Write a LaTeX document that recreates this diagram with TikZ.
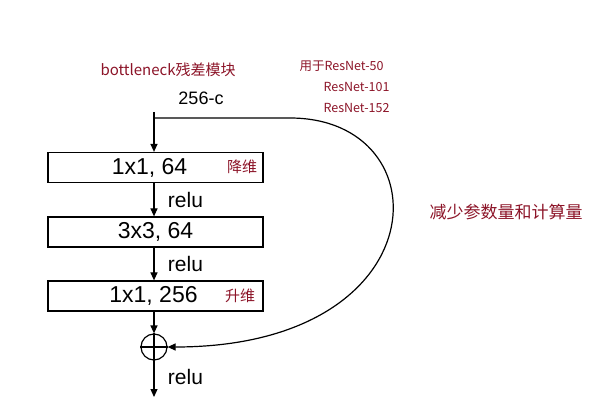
\documentclass[tikz,border=0pt]{standalone}
\usepackage{fontspec}
\setmainfont{Liberation Sans}
\newfontfamily\cjk{Noto Sans CJK SC}
\usetikzlibrary{arrows.meta}
\definecolor{hand}{RGB}{140,20,40}
\begin{document}
\begin{tikzpicture}[x=1pt,y=-1pt,
  blk/.style={draw,line width=1.2pt,minimum width=215pt,minimum height=30pt,font=\fontsize{23}{24}\selectfont,inner sep=0pt},
  lab/.style={font=\fontsize{21}{22}\selectfont},
  red/.style={text=hand,font=\cjk\fontsize{15}{16}\selectfont},
  sml/.style={text=hand,font=\cjk\fontsize{12.5}{13}\selectfont},
  arr/.style={line width=1.2pt,-{Triangle[length=8pt,width=7pt]}}]
\useasboundingbox (0,0) rectangle (614,409);
\node[red,anchor=west] (title) at (97,70) {bottleneck残差模块};
\node[sml,anchor=west] (u1) at (296,66) {用于ResNet-50};
\node[sml,anchor=west] (u2) at (320,87) {ResNet-101};
\node[sml,anchor=west] (u3) at (320,108) {ResNet-152};
\node[red,anchor=west,font=\cjk\fontsize{17}{18}\selectfont] (reduce) at (426,212) {减少参数量和计算量};
\node[lab,font=\fontsize{18}{19}\selectfont] (c256) at (201,98) {256-c};
\coordinate (top) at (154,112);
\coordinate (split) at (154,118);
\node[blk] (b1) at (155.5,167.5) {\hspace*{-12pt}1x1, 64};
\node[blk] (b2) at (155.5,232) {3x3, 64};
\node[blk] (b3) at (155.5,296) {\hspace*{-4pt}1x1, 256};
\node[red] at (242,167) {降维};
\node[red] at (240,296) {升维};
\node[draw,circle,line width=1.2pt,minimum size=26pt,inner sep=0pt] (add) at (154,347) {};
\draw[line width=1.2pt] (add.north)--(add.south) (add.west)--(add.east);
\draw[arr] (top) -- (b1.north -| top);
\draw[arr] (b1.south -| top) -- node[lab,right=10pt] {relu} (b2.north -| top);
\draw[arr] (b2.south -| top) -- node[lab,right=10pt] {relu} (b3.north -| top);
\draw[arr] (b3.south -| top) -- (add.north);
\coordinate (out) at (154,397);
\draw[arr] (add.south) -- node[lab,right=10pt,pos=0.45] {relu} (out);
\draw[arr] (split) -- (290,118) .. controls (445,118) and (440,347) .. (add.east);
\end{tikzpicture}
\end{document}
